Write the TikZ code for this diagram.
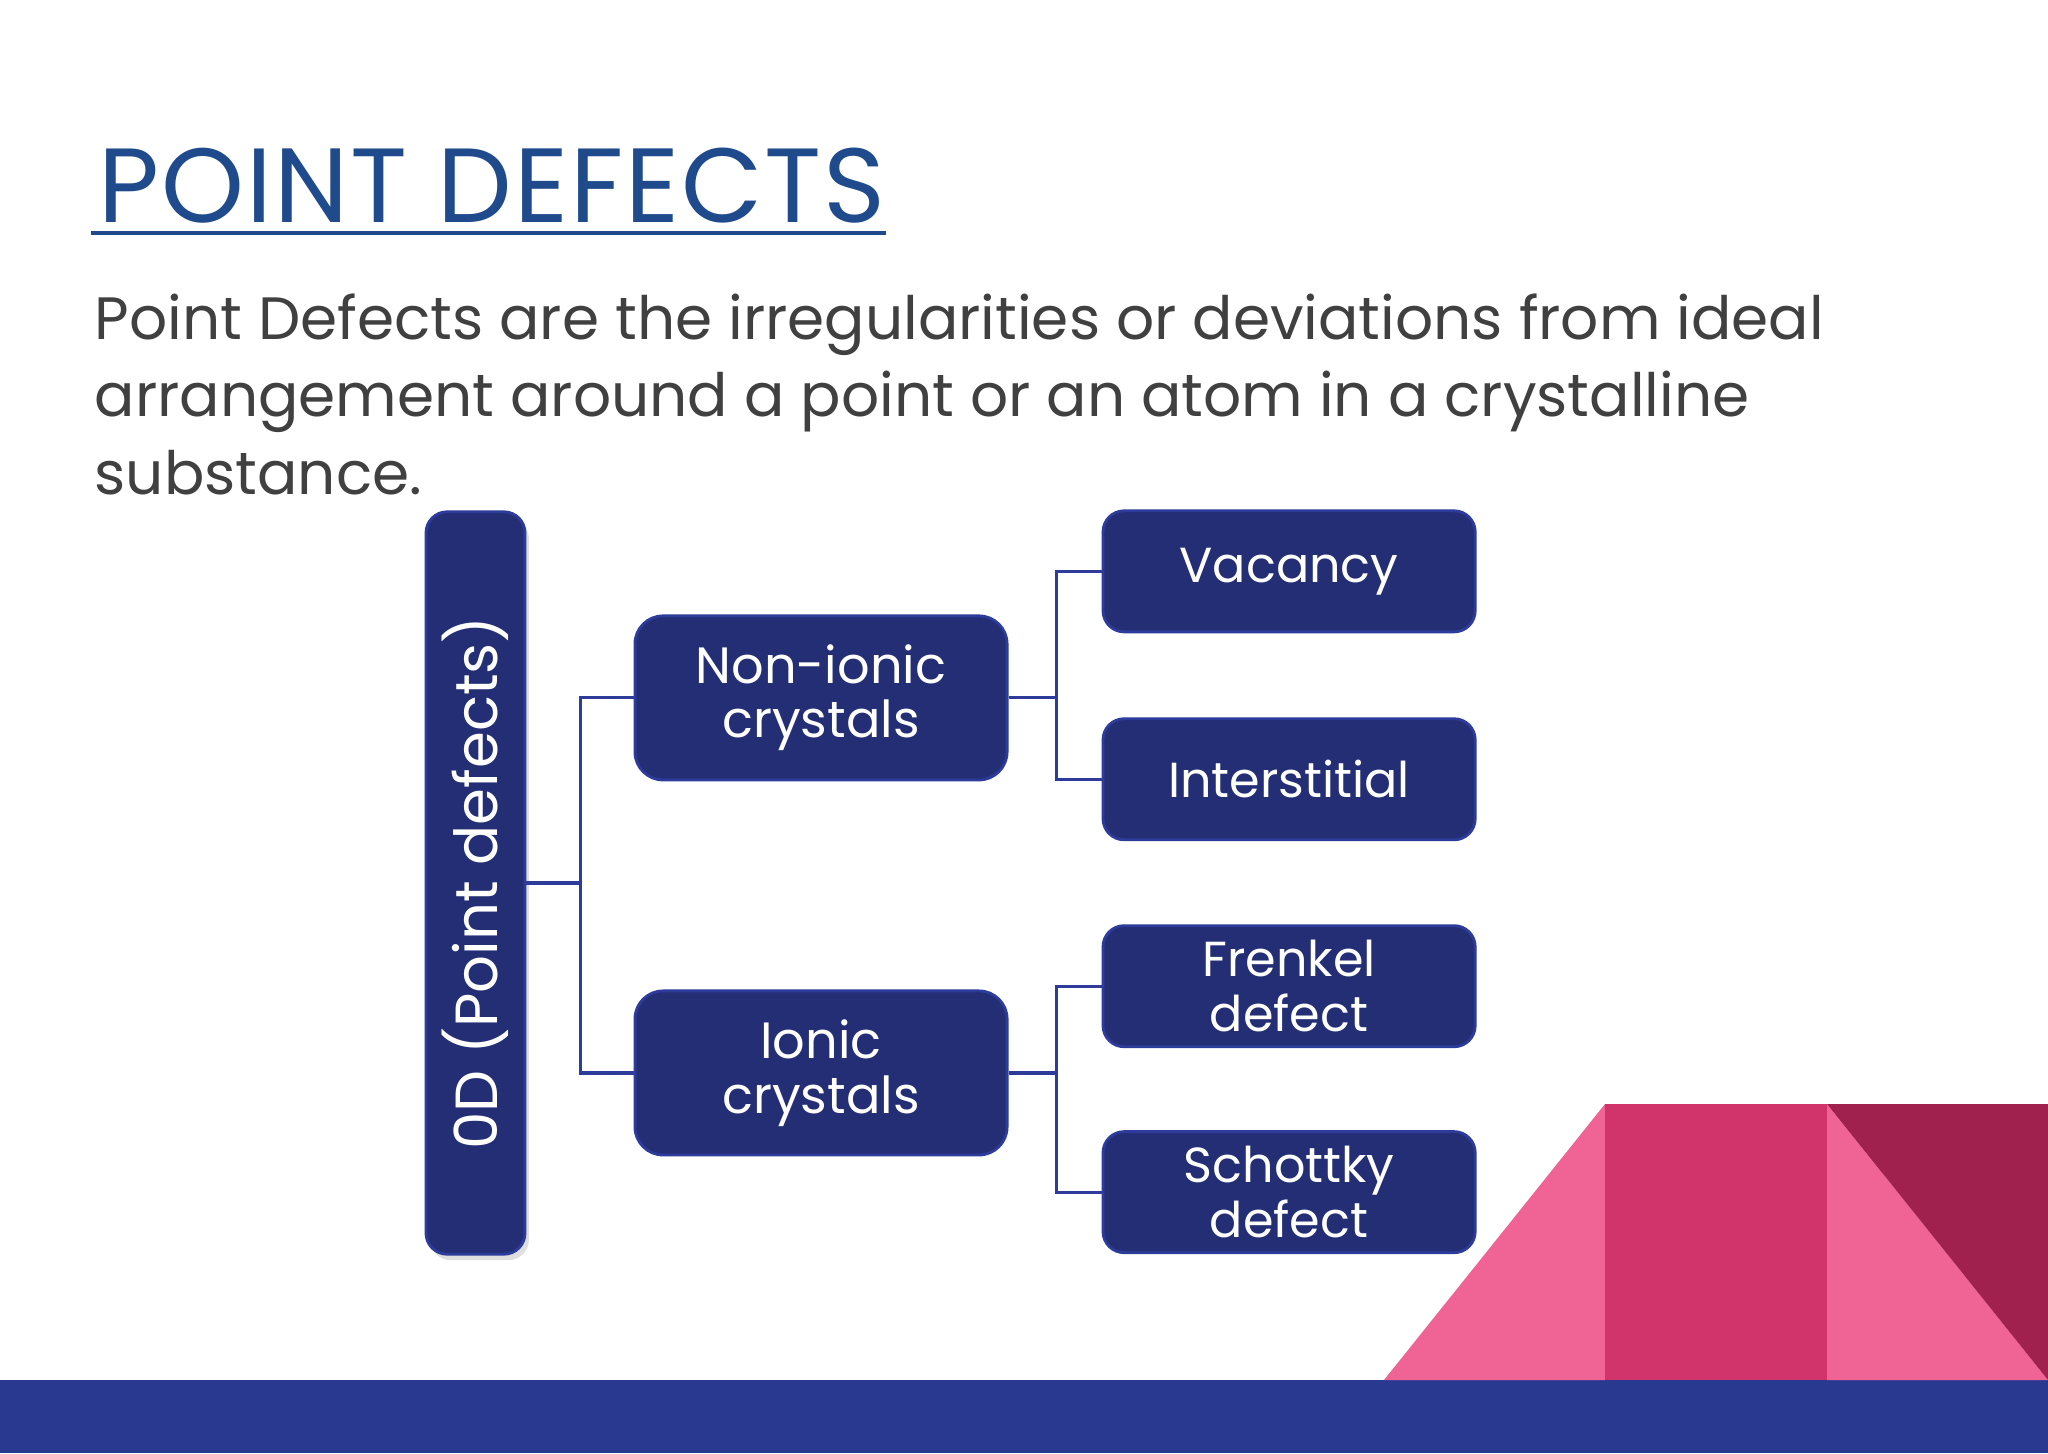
\documentclass[tikz,border=0pt]{standalone}
\usepackage{fontspec}
\setmainfont{Poppins}
\usetikzlibrary{positioning,shadows}
\definecolor{titleblue}{HTML}{1F4A8C}
\definecolor{bodygray}{HTML}{404040}
\definecolor{boxfill}{HTML}{242E75}
\definecolor{boxline}{HTML}{2D3C9B}
\definecolor{barblue}{HTML}{2A3990}
\definecolor{pinklight}{HTML}{EF6494}
\definecolor{pinkmid}{HTML}{D1336B}
\definecolor{pinkdark}{HTML}{A0214D}
\tikzset{
  defbox/.style={rectangle,rounded corners=6pt,draw=boxline,line width=0.8pt,
    fill=boxfill,text=white,align=center,font=\fontsize{14}{15.5}\selectfont,
    minimum width=3.72cm,inner sep=1pt},
  leafbox/.style={defbox,minimum height=1.21cm},
  midbox/.style={defbox,minimum height=1.64cm,rounded corners=8pt,font=\fontsize{14.5}{15.5}\selectfont},
  rootbox/.style={defbox,minimum width=0.99cm,minimum height=7.42cm,
    font=\fontsize{16.9}{18}\selectfont,
    drop shadow={opacity=0.25,shadow xshift=0.4mm,shadow yshift=-0.6mm}},
  treeline/.style={draw=boxline,line width=0.9pt},
}
\begin{document}
\begin{tikzpicture}[x=0.01cm,y=-0.01cm, node distance=0.84cm and 1.07cm]
  \useasboundingbox (0,0) rectangle (2048,1453);
  \fill[white] (0,0) rectangle (2048,1453);

  % corner decoration
  \fill[barblue] (0,1380) rectangle (2048,1453);
  \fill[pinklight] (1384,1380) -- (1605,1104) -- (1605,1380) -- cycle;
  \fill[pinkmid] (1605,1104) rectangle (1827,1380);
  \fill[pinklight] (1827,1104) -- (2048,1380) -- (1827,1380) -- cycle;
  \fill[pinkdark] (1827,1104) -- (2048,1104) -- (2048,1380) -- cycle;

  % heading
  \node[anchor=base west,inner sep=0,text=titleblue,font=\fontsize{30}{31}\selectfont\addfontfeature{LetterSpace=1.8}] (title) at (98,222) {POINT DEFECTS};
  \draw[titleblue,line width=1.2pt] ([xshift=-0.07cm,yshift=-0.11cm]title.base west) -- ([xshift=0.0cm,yshift=-0.11cm]title.base east);
  \node[anchor=north west,inner sep=0,align=left,text=bodygray,font=\fontsize{17}{22}\selectfont] (intro) at (94,293)
    {Point Defects are the irregularities or deviations from ideal\\
     arrangement around a point or an atom in a crystalline\\
     substance.};

  % tree
  \node[rootbox] (root) at (475.5,883) {\rotatebox{90}{0D (Point defects)}};
  \node[midbox, right=of root.east, yshift=1.85cm] (nonion) {Non-ionic\\crystals};
  \node[midbox, below=2.08cm of nonion] (ion) {Ionic\\crystals};

  \node[leafbox, right=0.93cm of nonion, yshift=1.265cm] (vac) {Vacancy};
  \node[leafbox, below=of vac] (inter) {Interstitial};
  \node[leafbox, below=0.83cm of inter] (frenkel) {Frenkel\\defect};
  \node[leafbox, below=0.82cm of frenkel] (schottky) {Schottky\\defect};

  \draw[treeline] (root.east) -- ++(0.54cm,0) |- (nonion.west);
  \draw[treeline] (root.east) -- ++(0.54cm,0) |- (ion.west);
  \draw[treeline] (nonion.east) -- ++(0.48cm,0) |- (vac.west);
  \draw[treeline] (nonion.east) -- ++(0.48cm,0) |- (inter.west);
  \draw[treeline] (ion.east) -- ++(0.48cm,0) |- (frenkel.west);
  \draw[treeline] (ion.east) -- ++(0.48cm,0) |- (schottky.west);
\end{tikzpicture}
\end{document}
